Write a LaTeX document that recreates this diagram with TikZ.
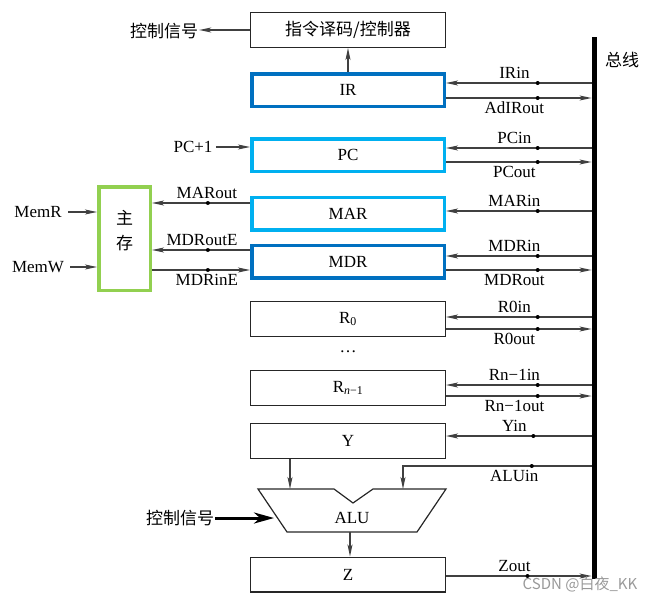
\documentclass[tikz,border=0pt]{standalone}
\usepackage{fontspec}
\setmainfont{Liberation Serif}
\newfontfamily\cjk{Noto Sans CJK SC}
\usetikzlibrary{arrows.meta,calc}
\definecolor{dblue}{HTML}{0070C0}
\definecolor{lblue}{HTML}{00B0F0}
\definecolor{lgreen}{HTML}{92D050}
\newcommand\sigin[5]{%
  \coordinate (cA) at ([yshift=#2]#1.east);
  \draw[sig] (cA -| bus.west) -- node[dot,pos=#5]{} node[lab,pos=0.53,#4=3.5pt]{#3} (cA);
}
\newcommand\sigout[5]{%
  \coordinate (cA) at ([yshift=#2]#1.east);
  \draw[sig] (cA) -- node[dot,pos=#5]{} node[lab,pos=0.47,#4=3.5pt]{#3} (cA -| bus.west);
}
\begin{document}
\begin{tikzpicture}[x=1pt,y=-1pt,
  font=\fontsize{17}{20}\selectfont,
  reg/.style={draw=black!85, line width=1.2pt, minimum width=194.8pt, minimum height=34.8pt, inner sep=0pt},
  regD/.style={draw=dblue, line width=3.5pt, minimum width=192.5pt, minimum height=32.5pt, inner sep=0pt},
  regL/.style={regD, draw=lblue},
  sig/.style={draw=black!75, line width=1.2pt, -{Stealth[length=12pt,width=5pt,inset=3pt]}},
  wire/.style={draw=black!85, line width=1.2pt},
  dot/.style={circle, fill=black, inner sep=0pt, minimum size=4pt},
  lab/.style={inner sep=0pt},
  cn/.style={font=\cjk\fontsize{17}{25}\selectfont, inner sep=1pt},
  fat/.style={draw=black, line width=3pt, -{Stealth[length=20pt,width=11pt,inset=6pt]}},
]
\useasboundingbox (0,0) rectangle (647,602);

% bus
\node[fill=black, inner sep=0pt, minimum width=5.5pt, minimum height=542pt] (bus) at (594.5,308) {};
\node[cn] (buslab) at (622,60) {总线};

% registers
\node[reg] (ctrl) at (348,30) {\cjk 指令译码/控制器};
\node[regD] (IR) at (348,90) {IR};
\node[regL] (PC) at (348,155) {PC};
\node[regL] (MAR) at (348,213.5) {MAR};
\node[regD] (MDR) at (348,261.5) {MDR};
\node[reg] (R0) at (348,319) {R\textsubscript{0}};
\node (dots) at (348,352) {\dots};
\node[reg] (Rn) at (348,388) {R\textsubscript{\textit{n}−1}};
\node[reg] (Y) at (348,441) {Y};
\node[reg] (Z) at (348,574.5) {Z};

% controller
\node[cn] (ctl1) at (164,31) {控制信号};
\draw[sig] (ctrl.west) -- (ctrl.west -| ctl1.east);
\draw[sig] (IR.north) -- (ctrl.south);

% PC+1
\node (pc1) at (193,147) {PC+1};
\draw[sig] (pc1.east) -- (pc1.east -| PC.west);

% right side signals
\sigin{IR}{7pt}{IRin}{above}{0.37}
\sigout{IR}{-8pt}{AdIRout}{below}{0.63}
\sigin{PC}{7pt}{PCin}{above}{0.37}
\sigout{PC}{-7pt}{PCout}{below}{0.63}
\sigin{MAR}{2.5pt}{MARin}{above}{0.37}
\sigin{MDR}{5.5pt}{MDRin}{above}{0.37}
\sigout{MDR}{-8.5pt}{MDRout}{below}{0.63}
\sigin{R0}{2pt}{R0in}{above}{0.37}
\sigout{R0}{-10pt}{R0out}{below}{0.63}
\sigin{Rn}{3pt}{Rn−1in}{above}{0.37}
\sigout{Rn}{-8pt}{Rn−1out}{below}{0.63}
\sigin{Y}{5pt}{Yin}{above}{0.4}
\sigout{Z}{-1.5pt}{Zout}{above}{0.56}

% main memory
\node[draw=lgreen, line width=3.5pt, minimum width=51.5pt, minimum height=103.5pt, inner sep=0pt] (mem) at (124.5,238.5) {};
\node[cn, align=center] (memt) at (124.5,231) {主\\存};
\node (memr) at (38,212) {MemR};
\draw[sig] ([xshift=3pt]memr.east) -- (memr.east -| mem.west);
\node (memw) at (38,267) {MemW};
\draw[sig] ([xshift=3pt]memw.east) -- (memw.east -| mem.west);

\coordinate (cA) at ([yshift=10.5pt]MAR.west);
\draw[sig] (cA) -- node[dot,pos=0.43]{} node[lab,pos=0.44,above=3.5pt]{MARout} (cA -| mem.east);
\coordinate (cA) at ([yshift=11.5pt]MDR.west);
\draw[sig] (cA) -- node[dot,pos=0.43]{} node[lab,pos=0.49,above=3.5pt]{MDRoutE} (cA -| mem.east);
\coordinate (cA) at ([yshift=-8.5pt]MDR.west);
\draw[sig] (cA -| mem.east) -- node[dot,pos=0.57]{} node[lab,pos=0.56,below=3.5pt]{MDRinE} (cA);

% ALU
\draw[wire] (258,489) -- (334,489) -- (353,503) -- (373,489) -- (446,489) -- (417,532) -- (287,532) -- cycle;
\node (alu) at (352,518) {ALU};
\coordinate (aluL) at (290,489);
\coordinate (aluR) at (403,489);
\coordinate (aluB) at (350,532);
\coordinate (aluW) at (274,518);
\draw[sig] (Y.south -| aluL) -- (aluL);
\coordinate (aluI) at ([yshift=-158pt]bus.west);
\draw[sig] (aluI) -- node[dot,pos=0.317]{} node[lab,pos=0.41,below=3.5pt]{ALUin} (aluI -| aluR) -- (aluR);
\draw[sig] (aluB) -- (aluB |- Z.north);
\node[cn] (ctl2) at (180,518) {控制信号};
\draw[fat] (ctl2.east) -- (aluW);

% watermark
\node[font=\cjk\fontsize{15}{17}\selectfont, text=black!40, inner sep=1pt] (wm) at (580,584) {CSDN @白夜\_KK};
\end{tikzpicture}
\end{document}
